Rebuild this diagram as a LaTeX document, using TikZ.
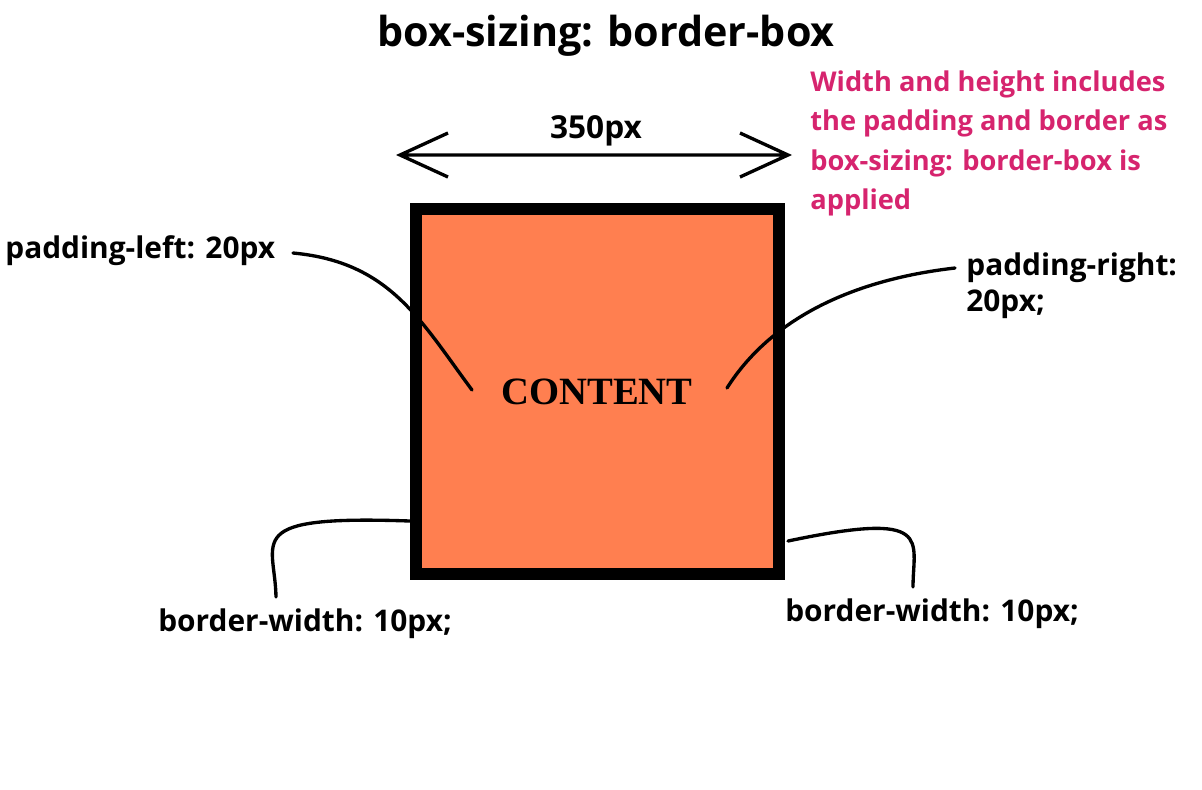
\documentclass[tikz,border=0pt]{standalone}
\usepackage{fontspec}
\setmainfont{Open Sans}
\newfontfamily\serifbold{Liberation Serif}
\usetikzlibrary{positioning}
\definecolor{coral}{HTML}{FF7F50}
\definecolor{pinktext}{HTML}{D6246E}
\tikzset{
  lbl/.style={font=\fontsize{17}{20}\selectfont\bfseries, inner sep=0pt},
  lead/.style={line width=1.9pt, line cap=round}
}
\begin{document}
\begin{tikzpicture}[x=0.02cm,y=-0.02cm]
                    \useasboundingbox (0,0) rectangle (1202,789);
                    \node[font=\fontsize{23.5}{28}\selectfont\bfseries] (title) at (606,36) {box-sizing: border-box};
                    \draw[fill=coral, line width=6.8pt] (416,209) rectangle (779,574);
                    \node[font=\fontsize{22}{26}\selectfont\serifbold\bfseries] (content) at (597,392) {CONTENT};
                    \node[lbl, font=\fontsize{18}{21}\selectfont\bfseries] (width) at (596,131) {350px};
                    \coordinate (wl) at (400,155);
                    \coordinate (wr) at (788,155);
                    \draw[line width=1.9pt] (wl) -- (wr)
                          (wl) ++(48,-22) -- (wl) -- ++(48,22)
                          (wr) ++(-48,-22) -- (wr) -- ++(-48,22);
                    \node[lbl, text=pinktext, align=left, anchor=north west, font=\fontsize{15.5}{22.5}\selectfont\bfseries] (note) at (810,70)
                          {Width and height includes\\the padding and border as\\box-sizing: border-box is\\applied};
                    \node[lbl, anchor=west] (pl) at (5,251) {padding-left: 20px};
                    \node[lbl, anchor=north west, align=left, font=\fontsize{17}{21}\selectfont\bfseries] (pr) at (966,252) {padding-right:\\20px;};
                    \node[lbl] (bl) at (305,624) {border-width: 10px;};
                    \node[lbl] (br) at (932,614) {border-width: 10px;};
                    \coordinate (plA) at (293,253);
                    \coordinate (plB) at (472,390);
                    \coordinate (prA) at (955,268);
                    \coordinate (prB) at (727,388);
                    \coordinate (blA) at (410,521);
                    \coordinate (blB) at (276,597);
                    \coordinate (brA) at (788,541);
                    \coordinate (brB) at (913,587);
                    \draw[lead] (plA) .. controls (390,262) and (420,320) .. (plB);
                    \draw[lead] (prA) .. controls (850,280) and (770,320) .. (prB);
                    \draw[lead] (blA) .. controls (240,515) and (275,540) .. (blB);
                    \draw[lead] (brA) .. controls (935,510) and (913,540) .. (brB);
                \end{tikzpicture}
\end{document}
